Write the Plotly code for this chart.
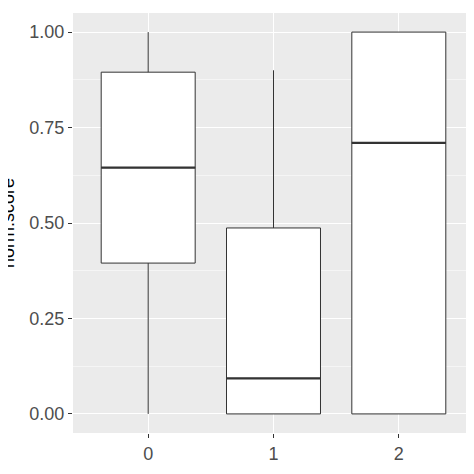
import plotly.graph_objects as go

groups = [0, 1, 2]
lower = [0.0, 0.0, 0.0]
q1 = [0.395, 0.0, 0.0]
median = [0.645, 0.093, 0.71]
q3 = [0.895, 0.487, 1.0]
upper = [1.0, 0.9, 1.0]
y_ticks = [0.0, 0.25, 0.5, 0.75, 1.0]
y_labels = ["0.00", "0.25", "0.50", "0.75", "1.00"]

fig = go.Figure()
fig.add_trace(go.Box(
    x=groups, q1=q1, median=median, q3=q3,
    lowerfence=lower, upperfence=upper,
    width=0.75, fillcolor="white",
    line=dict(color="#333333", width=1),
    whiskerwidth=0, showlegend=False, hoverinfo="skip",
))
# thicker median lines like ggplot
for g, m in zip(groups, median):
    fig.add_trace(go.Scatter(
        x=[g - 0.375, g + 0.375], y=[m, m], mode="lines",
        line=dict(color="#333333", width=2.2), showlegend=False, hoverinfo="skip",
    ))

fig.update_xaxes(
    range=[-0.6, 2.6], tickvals=groups, ticktext=[str(g) for g in groups],
    showgrid=True, gridcolor="white", gridwidth=1.4, zeroline=False,
    ticks="outside", ticklen=4, tickcolor="#333333",
    tickfont=dict(size=18, color="#4D4D4D"), automargin=False,
)
fig.update_yaxes(
    range=[-0.05, 1.05], tickvals=y_ticks, ticktext=y_labels,
    showgrid=True, gridcolor="white", gridwidth=1.4, zeroline=False,
    minor=dict(dtick=0.25, tick0=0.125, showgrid=True, gridcolor="#F5F5F5", gridwidth=0.7),
    ticks="outside", ticklen=4, tickcolor="#333333",
    tickfont=dict(size=18, color="#4D4D4D"), automargin=False,
)
fig.update_layout(
    width=474, height=474,
    plot_bgcolor="#EBEBEB", paper_bgcolor="white",
    font=dict(family="Liberation Sans, Arial, sans-serif"),
    margin=dict(l=65, r=8, t=5, b=49),
    annotations=[
        dict(text="groups", xref="paper", yref="paper", x=0.5, y=0,
             yshift=-34, yanchor="top", showarrow=False,
             font=dict(size=18, color="black")),
        dict(text="norm.score", xref="paper", yref="paper", x=0, y=0.5,
             xshift=-53, xanchor="right", textangle=-90, showarrow=False,
             font=dict(size=18, color="black")),
    ],
)
fig.write_html("out.html")
